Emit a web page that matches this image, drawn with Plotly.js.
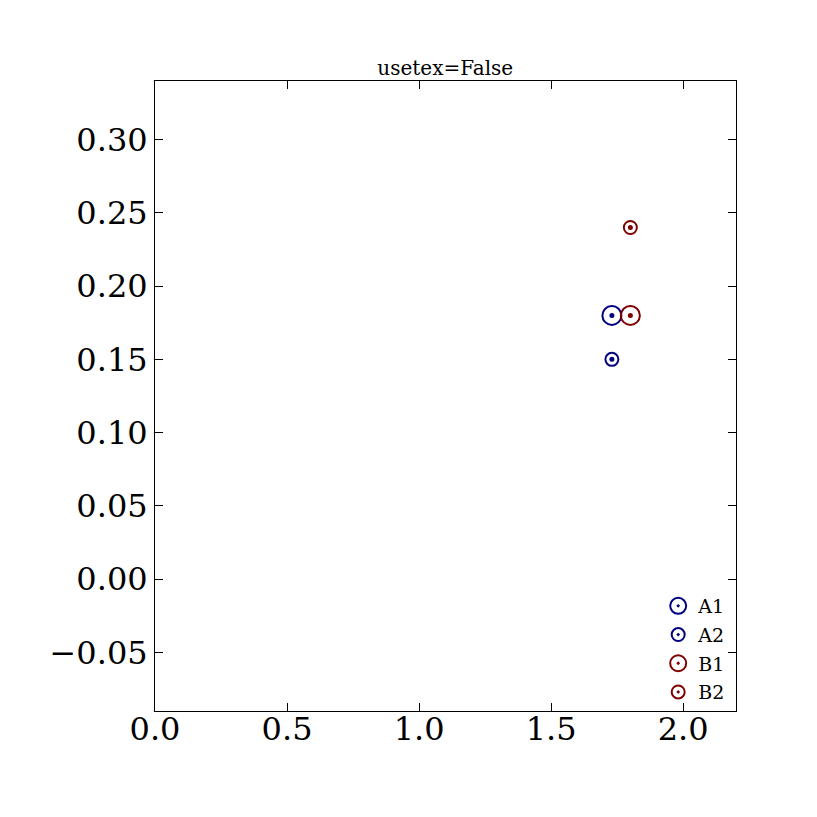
<!DOCTYPE html>
<html>
<head>
<meta charset="utf-8">
<script src="https://cdn.plot.ly/plotly-3.0.1.min.js"></script>
<style>html,body{margin:0;padding:0;background:#fff;}#chart{width:817px;height:817px;}</style>
</head>
<body>
<div id="chart"></div>
<script>
const names = ["A1", "A2", "B1", "B2"];
const xValues = [1.73, 1.73, 1.80, 1.80];
const yValues = [0.18, 0.15, 0.18, 0.24];
const colors = ["#000080", "#000080", "#800000", "#800000"];
const sizes = [19, 13, 19, 13];
const xTicks = [0.0, 0.5, 1.0, 1.5, 2.0];
const yTicks = [-0.05, 0.00, 0.05, 0.10, 0.15, 0.20, 0.25, 0.30];

const font = "DejaVu Serif, serif";
const traces = names.map((n, i) => ({
  type: "scatter",
  mode: "markers",
  name: n,
  legendgroup: n,
  x: [xValues[i]],
  y: [yValues[i]],
  marker: {
    symbol: "circle-open-dot",
    size: sizes[i],
    color: colors[i],
    line: {width: 2, color: colors[i]}
  }
}));
// centre dots, drawn from the same data
names.forEach((n, i) => traces.push({
  type: "scatter",
  mode: "markers",
  name: n,
  legendgroup: n,
  showlegend: false,
  hoverinfo: "skip",
  x: [xValues[i]],
  y: [yValues[i]],
  marker: {symbol: "circle", size: 5, color: colors[i], line: {width: 0}}
}));

const axisCommon = {
  showgrid: false,
  zeroline: false,
  showline: true,
  linecolor: "#000",
  linewidth: 1,
  mirror: "ticks",
  ticks: "inside",
  ticklen: 8,
  tickwidth: 1,
  tickcolor: "#000",
  tickfont: {family: font, size: 32, color: "#000"}
};

const layout = {
  width: 817,
  height: 817,
  paper_bgcolor: "#fff",
  plot_bgcolor: "#fff",
  margin: {l: 155, r: 81, t: 81, b: 106},
  title: {text: "usetex=False", font: {family: font, size: 20, color: "#000"}, x: 0.545, xanchor: "center", y: 0.917, yanchor: "middle"},
  xaxis: Object.assign({}, axisCommon, {range: [0, 2.2], tickvals: xTicks, tickformat: ".1f", ticklabelstandoff: -10}),
  yaxis: Object.assign({}, axisCommon, {range: [-0.09, 0.34], tickvals: yTicks, tickformat: ".2f"}),
  showlegend: true,
  legend: {
    x: 0.99, y: 0.0, xanchor: "right", yanchor: "bottom",
    bgcolor: "rgba(0,0,0,0)",
    borderwidth: 0,
    font: {family: font, size: 19, color: "#000"},
    tracegroupgap: 1,
    itemwidth: 30
  }
};

Plotly.newPlot("chart", traces, layout, {displayModeBar: false, staticPlot: true});
</script>
</body>
</html>
